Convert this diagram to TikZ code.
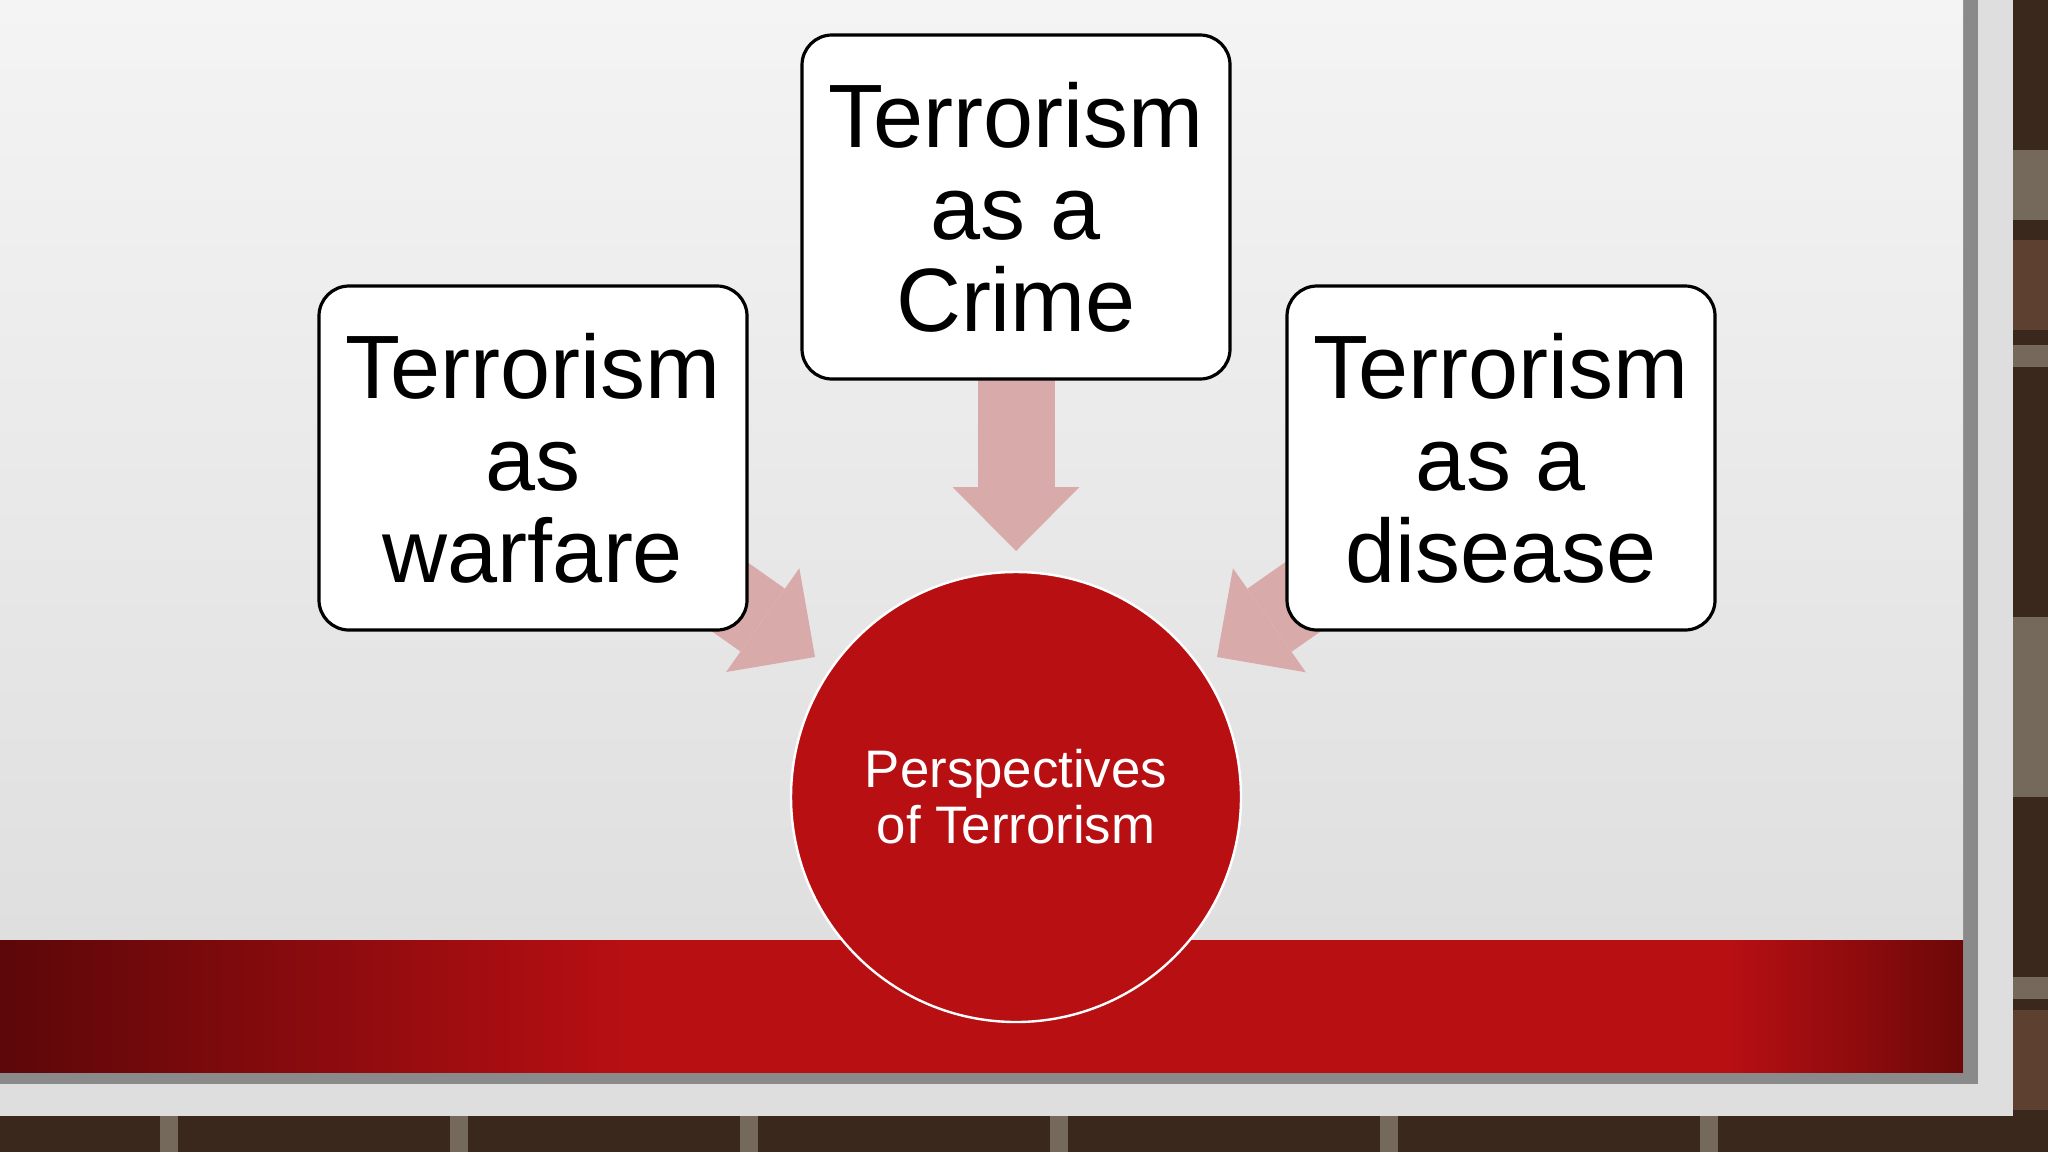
\documentclass[tikz,border=0pt]{standalone}
\usepackage{fontspec}
\setmainfont{Liberation Sans}
\usetikzlibrary{arrows.meta,backgrounds}
\definecolor{hubRed}{HTML}{B80F13}
\definecolor{arrowPink}{HTML}{D9AAAA}
\definecolor{slideTop}{HTML}{F4F4F4}
\definecolor{slideBottom}{HTML}{DCDCDC}
\definecolor{frameGray}{HTML}{DEDEDE}
\definecolor{shadowGray}{HTML}{8A8A8A}
\definecolor{brickDark}{HTML}{3A281D}
\definecolor{brickBrown}{HTML}{5E4030}
\definecolor{brickStone}{HTML}{74695A}
\definecolor{bandDark}{HTML}{5C0709}
\definecolor{bandEnd}{HTML}{6C0808}
\pgfdeclarehorizontalshading{bandShade}{100bp}{color(0bp)=(bandDark); color(25bp)=(bandDark); color(41bp)=(hubRed); color(69bp)=(hubRed); color(75bp)=(bandEnd); color(100bp)=(bandEnd)}
\tikzstyle{termBox}=[draw=black, line width=1.6pt, fill=white, rounded corners=15pt, minimum width=214pt, minimum height=172pt, align=center, font=\fontsize{45}{46}\selectfont]
\tikzstyle{hubCircle}=[circle, draw=white, line width=1.2pt, fill=hubRed, minimum size=225pt, align=center, text=white, font=\fontsize{26.4}{28}\selectfont]
\tikzstyle{bigArrow}=[draw=arrowPink, line width=38.5pt, -{Triangle[length=32pt, width=63.5pt, line width=0pt]}]

\begin{document}
\begin{tikzpicture}[x=0.5pt, y=-0.5pt]
	\useasboundingbox (0,0) rectangle (2048,1152);
	
	\node[termBox] (warfare) at (533,458) {Terrorism\\as\\warfare};
	\node[termBox] (crime) at (1016,207) {Terrorism\\as a\\Crime};
	\node[termBox] (disease) at (1501,458) {Terrorism\\as a\\disease};
	\node[hubCircle] (hub) at (1016,797) {Perspectives\\of Terrorism};
	
	\coordinate (tipW) at (815,657);
	\coordinate (tipC) at (1016,551);
	\coordinate (tipD) at (1217,657);
	
	\begin{scope}[on background layer]
		% wall, frame and slide
		\fill[brickDark] (0,0) rectangle (2048,1152);
		\foreach \y/\h in {150/70, 345/22, 617/180, 977/22}
			\fill[brickStone] (2013,\y) rectangle (2048,\y+\h);
		\fill[brickBrown] (2013,240) rectangle (2048,330);
		\fill[brickBrown] (2013,1010) rectangle (2048,1110);
		\foreach \x in {160,450,740,1050,1380,1700}
			\fill[brickStone] (\x,1116) rectangle (\x+18,1152);
		\fill[frameGray] (0,0) rectangle (2013,1116);
		\fill[shadowGray] (0,0) rectangle (1978,1084);
		\shade[top color=slideTop, bottom color=slideBottom] (0,0) rectangle (1963,1072);
		\shade[shading=bandShade] (0,940) rectangle (1963,1072);
		
		\draw[bigArrow] (warfare.center) -- (tipW);
		\draw[bigArrow] (crime.center) -- (tipC);
		\draw[bigArrow] (disease.center) -- (tipD);
	\end{scope}
\end{tikzpicture}
\end{document}
